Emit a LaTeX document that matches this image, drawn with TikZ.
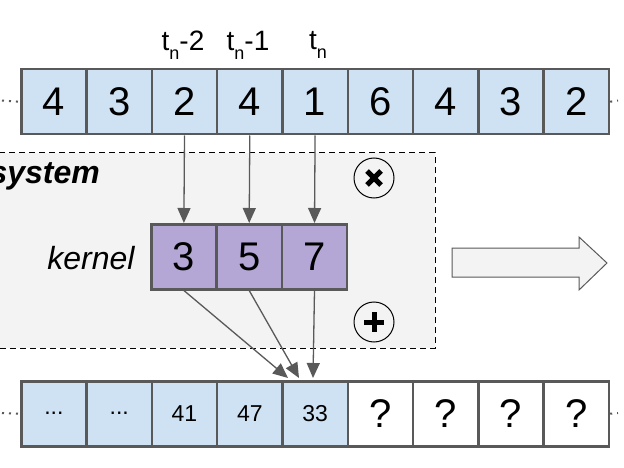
\documentclass[tikz,border=0pt]{standalone}
\usepackage{fontspec}
\setmainfont{Liberation Sans}
\usetikzlibrary{arrows.meta}
\definecolor{cellb}{HTML}{CFE2F3}
\definecolor{kern}{HTML}{B4A7D6}
\definecolor{edge}{HTML}{595959}
\definecolor{sysb}{HTML}{F3F3F3}
\begin{document}
\begin{tikzpicture}[x=1pt,y=-1pt,
  cell/.style={draw=edge,line width=2.5pt,minimum width=65.3pt,minimum height=65pt,inner sep=0pt,font=\fontsize{40}{40}\selectfont,anchor=north west},
  small/.style={font=\fontsize{23}{23}\selectfont},
  arr/.style={draw=edge,line width=1.3pt,-{Triangle[length=15pt,width=13pt]}},
  dots/.style={edge,line width=2pt,dash pattern=on 2pt off 5pt},
  lab/.style={font=\fontsize{28}{28}\selectfont},
  op/.style={draw,circle,line width=1pt,minimum size=40pt,inner sep=0pt}]
\useasboundingbox (0,0) rectangle (624,468);
\draw[line width=1pt,dash pattern=on 6pt off 4pt,fill=sysb] (-5,153) rectangle (435,348);
\node[anchor=west,font=\fontsize{32}{32}\selectfont\bfseries\itshape] (sys) at (-14,176) {system};
\node[anchor=east,font=\fontsize{32}{32}\selectfont\itshape] (kl) at (138,258) {kernel};
\node[op] (mul) at (374,178) {};
\node[op] (add) at (374,322) {};
\draw[line width=5pt] ([shift={(-7,-7)}]mul.center) -- ([shift={(7,7)}]mul.center) ([shift={(-7,7)}]mul.center) -- ([shift={(7,-7)}]mul.center);
\draw[line width=5pt] ([shift={(-10,0)}]add.center) -- ([shift={(10,0)}]add.center) ([shift={(0,-10)}]add.center) -- ([shift={(0,10)}]add.center);
\foreach \v [count=\i] in {4,3,2,4,1,6,4,3,2}
  \node[cell,fill=cellb] (t\i) at ({20+(\i-1)*65.3},68) {\v};
\foreach \v [count=\i] in {3,5,7}
  \node[cell,fill=kern] (k\i) at ({150+(\i-1)*65.3},223) {\v};
\node[cell,fill=cellb,small] (b1) at (20,380) {...};
\node[cell,fill=cellb,small] (b2) at (85.3,380) {...};
\node[cell,fill=cellb,small] (b3) at (150.6,380) {41};
\node[cell,fill=cellb,small] (b4) at (215.9,380) {47};
\node[cell,fill=cellb,small] (b5) at (281.2,380) {33};
\foreach \i in {6,7,8,9}
  \node[cell,fill=white] (b\i) at ({20+(\i-1)*65.3},380) {?};
\node[lab] (l1) at (183,45) {t\raisebox{-0.6ex}{\fontsize{18}{18}\selectfont n}-2};
\node[lab] (l2) at (248,45) {t\raisebox{-0.6ex}{\fontsize{18}{18}\selectfont n}-1};
\node[lab] (l3) at (318,45) {t\raisebox{-0.6ex}{\fontsize{18}{18}\selectfont n}};
\draw[dots] (2,100.5) -- (t1.west);
\draw[dots] (t9.east) -- (618,100.5);
\draw[dots] (2,413) -- (b1.west);
\draw[dots] (b9.east) -- (618,413);
\draw[arr] (t3.south) -- (k1.north);
\draw[arr] (t4.south) -- (k2.north);
\draw[arr] (t5.south) -- (k3.north);
\coordinate (e1) at (288,378);
\coordinate (e2) at (299,378);
\coordinate (e3) at (313,378);
\draw[arr] (k1.south) -- (e1);
\draw[arr] (k2.south) -- (e2);
\draw[arr] (k3.south) -- (e3);
\draw[edge,line width=1pt,fill=sysb] (452,248) -- (579,248) -- (579,237) -- (607,263) -- (579,290) -- (579,277) -- (452,277) -- cycle;
\end{tikzpicture}
\end{document}
